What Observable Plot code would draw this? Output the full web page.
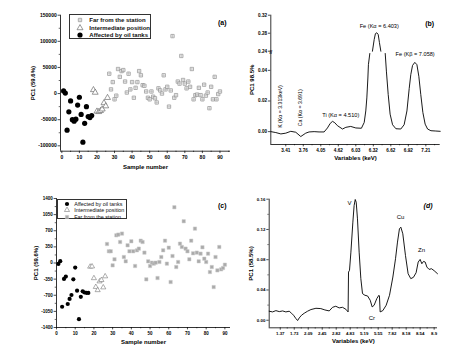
<!DOCTYPE html>
<html><head><meta charset="utf-8">
<script src="https://cdn.jsdelivr.net/npm/d3@7"></script>
<script src="https://cdn.jsdelivr.net/npm/@observablehq/plot@0.6"></script>
<style>
body{margin:0;background:#fff;}
#root{position:relative;width:474px;height:356px;overflow:hidden;background:#fff;font-family:"Liberation Sans",Arial,sans-serif;}
.panel{position:absolute;}
.panel svg{display:block;}
.legend{position:absolute;box-sizing:border-box;border:0.7px solid #333;background:#fff;}
.lrow{position:absolute;left:0;height:8px;display:flex;align-items:center;white-space:nowrap;color:#111;}
</style></head><body><div id="root"></div>
<script>
const FONT = '"Liberation Sans", Arial, sans-serif';

// ---------------- Panel (a) ----------------
const aOilSample = [1,2,3,4,5,6,7,8,9,10,11,12,13,14,15,16,17];
const aOilPC1 = [5000,1000,-70000,-35000,-14000,-50000,-53000,-49000,-22000,-7000,-40000,-93000,-57000,-25000,-44000,-46000,-42000];
const aMidSample = [18,19,20,21,22,23,24,25,26];
const aMidPC1 = [7000,2000,-34000,-35000,-33000,-30000,-18000,-24000,-8000];
const aFarSample = [27,28,29,30,31,32,33,34,35,36,37,38,39,40,41,42,43,44,45,46,47,48,49,50,51,52,53,54,55,56,57,58,59,60,61,62,63,64,65,66,67,68,69,70,71,72,73,74,75,76,77,78,79,80,81,82,83,84,85,86,87,88,89,90];
const aFarPC1 = [38000,8000,22000,-11000,-4000,47000,32000,43000,45000,23000,2000,38000,8000,22000,-8000,11000,22000,43000,35000,16000,15000,4000,-8000,-11000,4000,-6000,-9000,-17000,10000,6000,0,35000,8000,13000,-25000,6000,110000,-8000,-3000,23000,19000,72000,26000,19000,10000,23000,13000,47000,-11000,-3000,-2000,11000,-3000,-11000,17000,-4000,2000,-28000,13000,-11000,32000,-11000,-1000,4000];
const aXTicks = [0,10,20,30,40,50,60,70,80,90];
const aXMinor = [5,15,25,35,45,55,65,75,85,95];
const aYTicks = [-100000,-50000,0,50000,100000,150000];
const aYMinor = [-75000,-25000,25000,75000,125000];
const aLegend = ["Far from the station","Intermediate position","Affected by oil tanks"];

// ---------------- Panel (b) ----------------
const bRiseT = [-0.855,-0.57,-0.28,0,0.286,0.571,0.857,1.14,1.33,1.62,1.90,2.19,2.38,2.54,2.67,2.80,2.95,3.24,3.43,3.71,4.0,4.32,4.48,4.57,4.63,4.69,4.72,4.80];
const bRiseV = [0.0,-0.0006,-0.0015,-0.001,0.0002,-0.0004,-0.0032,-0.001,-0.0002,0,-0.0002,-0.0002,0.0024,0.0054,0.0067,0.0058,0.0039,0.0017,0.0028,0.0034,0.0024,0.0022,0.006,0.0135,0.022,0.035,0.0437,0.051];
const bPeakT = [4.95,5.05,5.12,5.20,5.28,5.35,5.43];
const bPeakV = [0.24,0.266,0.279,0.281,0.277,0.259,0.24];
const bFallT = [5.68,5.75,5.85,5.96,6.10,6.29,6.57,6.76,6.92,7.05,7.14,7.24,7.37,7.49,7.60,7.71,7.83,7.96,8.10,8.29,8.57,8.82];
const bFallV = [0.051,0.039,0.0243,0.0114,0.0045,0.0019,0.0017,0.0045,0.0135,0.0282,0.0372,0.0432,0.0452,0.0437,0.0361,0.0243,0.0125,0.0049,0.0017,0.0006,0.0004,0.0002];
const bXLabels = ["3.41","3.76","4.05","4.62","6.03","6.32","6.62","6.92","7.21"];
const bYTicks = [0,0.02,0.04,0.24,0.28,0.32];
const bNotes = ["Fe (K\u03b1 = 6.403)","Fe (K\u03b2 = 7.058)","Ti (K\u03b1 = 4.510)"];
const bNoteT = [5.34,7.39,3.14];
const bNoteV = [0.296,0.0505,0.0108];
const bVertNotes = ["K (K\u03b1 = 3.313keV)","Ca (K\u03b1 = 3.691)"];
const bVertT = [-0.29,0.86];
const bVertV = [0.0025,0.0035];

// ---------------- Panel (c) ----------------
const cOilSample = [1,2,3,4,5,6,7,8,9,10,11,12,13,14,15,16,17];
const cOilPC1 = [-20,40,-950,-345,-295,-890,-780,-695,-355,-100,-600,-1220,-735,-615,-640,-648,-650];
const cMidSample = [18,19,20,21,22,23,24,25,26];
const cMidPC1 = [-80,-75,-330,-520,-590,-400,-370,-530,-290];
const cFarSample = aFarSample;
const cFarPC1 = [413,254,254,-51,80,601,616,456,638,130,36,384,254,471,254,-65,275,312,485,456,225,-355,36,-65,7,-14,7,-326,22,130,275,485,-14,333,-413,152,1210,-87,22,420,348,906,312,254,80,485,210,746,225,36,203,341,94,22,203,-196,-87,-522,130,-160,348,-138,-109,-36];
const cXTicks = [0,10,20,30,40,50,60,70,80,90];
const cXMinor = [5,15,25,35,45,55,65,75,85];
const cYTicks = [-1400,-1050,-700,-350,0,350,700,1050,1400];
const cYMinor = [-1225,-875,-525,-175,175,525,875,1225];
const cLegend = ["Affected by oil tanks","Intermediate position","Far from the station"];

// ---------------- Panel (d) ----------------
const dT = [-0.79,-0.55,-0.31,-0.07,0.17,0.40,0.64,0.81,0.95,1.12,1.24,1.36,1.52,1.71,1.95,2.19,2.55,2.90,3.19,3.50,3.74,3.97,4.21,4.45,4.69,4.85,4.88,4.95,5.05,5.19,5.28,5.36,5.43,5.52,5.64,5.76,5.88,6.05,6.24,6.43,6.57,6.71,6.90,7.05,7.09,7.14,7.33,7.57,7.81,8.05,8.24,8.38,8.52,8.62,8.76,8.95,9.14,9.33,9.52,9.71,9.86,10.0,10.12,10.24,10.36,10.48,10.64,10.81,11.0,11.24];
const dV = [0.0119,0.011,0.0127,0.0114,0.0123,0.011,0.0119,0.0092,0.0066,0.0022,-0.0004,0.0031,0.0066,0.0092,0.0119,0.0141,0.0158,0.0154,0.0136,0.0123,0.0171,0.0185,0.0163,0.0171,0.0145,0.011,0.0637,0.066,0.090,0.1297,0.1516,0.1596,0.156,0.134,0.090,0.055,0.0352,0.033,0.0321,0.0264,0.0176,0.0198,0.0286,0.033,0.032,0.011,0.0127,0.0198,0.033,0.0571,0.0813,0.1033,0.1209,0.123,0.1143,0.0857,0.0615,0.055,0.0567,0.0628,0.0769,0.0804,0.0747,0.0778,0.0769,0.0703,0.0672,0.0681,0.0655,0.0615];
const dXLabels = ["1.37","1.73","2.09","2.45","2.82","4.83","5.19","5.55","7.82","8.18","8.54","8.9"];
const dYTicks = [0,0.04,0.08,0.12,0.16];
const dYMinor = [0.02,0.06,0.10,0.14];
const dNotes = ["V","Cu","Zn","Cr"];
const dNoteT = [4.95,8.6,10.1,6.55];
const dNoteV = [0.1554,0.136,0.0925,0.003];

// ---------------- helpers ----------------
const root = document.getElementById("root");
function place(node, left, top) {
  const w = document.createElement("div");
  w.className = "panel";
  w.style.left = left + "px"; w.style.top = top + "px";
  w.appendChild(node); root.appendChild(w);
}
const str = d => String(d);
const f2 = d3.format(".2f");
const INK = "#000";
function frameAxes(xDom, yDom, o) {
  return [
    Plot.axisX({ticks: o.xTicks, anchor: "bottom", tickSize: 2.4, tickPadding: 1.4, tickFormat: o.xFormat, fontSize: o.tickFont, fontWeight: "bold", label: null, strokeWidth: 0.7, stroke: INK, fill: INK}),
    o.xMinor ? Plot.axisX({ticks: o.xMinor, anchor: "bottom", tickSize: 1.3, tickFormat: () => "", label: null, strokeWidth: 0.6, stroke: INK}) : null,
    Plot.axisY({ticks: o.yTicks, anchor: "left", tickSize: 2.4, tickPadding: 1.4, tickFormat: o.yFormat, fontSize: o.tickFont, fontWeight: "bold", label: null, strokeWidth: 0.7, stroke: INK, fill: INK}),
    o.yMinor ? Plot.axisY({ticks: o.yMinor, anchor: "left", tickSize: 1.3, tickFormat: () => "", label: null, strokeWidth: 0.6, stroke: INK}) : null,
    Plot.ruleX([xDom[0]], {stroke: INK, strokeWidth: 0.8}),
    Plot.ruleY([yDom[0]], {stroke: INK, strokeWidth: 0.8}),
    Plot.text([o.yLabel], {text: d => d, frameAnchor: "left", dx: o.yLabelDx, rotate: -90, textAnchor: "middle", fontSize: o.labelFont, fontWeight: "bold", fill: INK}),
    Plot.text([o.xLabel], {text: d => d, frameAnchor: "bottom", dy: o.xLabelDy, textAnchor: "middle", fontSize: o.labelFont, fontWeight: "bold", fill: INK})
  ];
}
function symSvg(kind, r, color) {
  const ns = "http://www.w3.org/2000/svg";
  const svg = document.createElementNS(ns, "svg");
  svg.setAttribute("width", 8); svg.setAttribute("height", 8);
  svg.setAttribute("viewBox", "-4 -4 8 8");
  const g = d3.select(svg);
  const size = Math.PI * r * r;
  if (kind === "circle") g.append("circle").attr("r", r).attr("fill", color);
  if (kind === "triangle") g.append("path").attr("d", d3.symbol(d3.symbolTriangle, size)()).attr("fill", "#fff").attr("stroke", color).attr("stroke-width", 0.6);
  if (kind === "squarePlus") {
    g.append("path").attr("d", d3.symbol(d3.symbolSquare, size)()).attr("fill", "#fff").attr("stroke", color).attr("stroke-width", 0.55);
    g.append("path").attr("d", d3.symbol(d3.symbolPlus, size * 0.6)()).attr("fill", "none").attr("stroke", "#999").attr("stroke-width", 0.4);
  }
  if (kind === "square") g.append("path").attr("d", d3.symbol(d3.symbolSquare, size)()).attr("fill", "#aaa").attr("stroke", "#ccc").attr("stroke-width", 0.5);
  return svg;
}
function legend(box, rows) {
  const el = document.createElement("div");
  el.className = "legend";
  Object.assign(el.style, {left: box.left + "px", top: box.top + "px", width: box.width + "px", height: box.height + "px"});
  rows.forEach((r, i) => {
    const row = document.createElement("div");
    row.className = "lrow";
    row.style.top = (box.rowY[i] - 4) + "px";
    const s = symSvg(r.kind, r.r, r.color);
    s.style.marginLeft = (box.symX - 4) + "px";
    row.appendChild(s);
    const t = document.createElement("span");
    t.textContent = r.label;
    Object.assign(t.style, {marginLeft: (box.textX - box.symX - 4) + "px", fontSize: box.font + "px", fontWeight: box.weight, lineHeight: "8px"});
    row.appendChild(t);
    el.appendChild(row);
  });
  root.appendChild(el);
}

// ---------------- build (a) ----------------
const aXDom = [-0.75, 96], aYDom = [-110300, 150000];
const aOil = aOilSample.map((s, i) => ({s, v: aOilPC1[i]}));
const aMid = aMidSample.map((s, i) => ({s, v: aMidPC1[i]}));
const aFar = aFarSample.map((s, i) => ({s, v: aFarPC1[i]}));
place(Plot.plot({
  width: 237, height: 178, marginLeft: 60, marginRight: 7, marginTop: 14.7, marginBottom: 27.3,
  x: {domain: aXDom, axis: null}, y: {domain: aYDom, axis: null},
  style: {fontFamily: FONT, background: "transparent", color: "#000"},
  marks: [
    ...frameAxes(aXDom, aYDom, {xTicks: aXTicks, xMinor: aXMinor, yTicks: aYTicks, yMinor: aYMinor, xFormat: str, yFormat: str, tickFont: 5, labelFont: 6, yLabel: "PC1 (59.6%)", yLabelDx: -27.5, xLabel: "Sample number", xLabelDy: 17.3}),
    Plot.dot(aFar, {x: "s", y: "v", symbol: "square", r: 1.9, fill: "#fff", stroke: "#777", strokeWidth: 0.55}),
    Plot.dot(aFar, {x: "s", y: "v", symbol: "plus", r: 1.3, stroke: "#999", strokeWidth: 0.4}),
    Plot.dot(aMid, {x: "s", y: "v", symbol: "triangle", r: 2.2, fill: "#fff", stroke: "#555", strokeWidth: 0.6}),
    Plot.dot(aOil, {x: "s", y: "v", symbol: "circle", r: 2.6, fill: INK}),
    Plot.text(["(a)"], {text: d => d, frameAnchor: "top-right", dx: -4, dy: 4.5, fontSize: 7, fontWeight: "bold", fill: INK})
  ]
}), 0, 0);
legend({left: 69.3, top: 14, width: 81.7, height: 25.3, rowY: [5.3, 12.7, 20], symX: 10, textX: 19, font: 6, weight: "bold"}, [
  {label: aLegend[0], kind: "squarePlus", r: 1.9, color: "#777"},
  {label: aLegend[1], kind: "triangle", r: 2.2, color: "#555"},
  {label: aLegend[2], kind: "circle", r: 2.6, color: INK}
]);

// ---------------- build (b) ----------------
const bXDom = [-0.855, 8.82];
const bYDom = [-0.0084, 0.051, 0.24, 0.32];
const bLine = [
  ...bRiseT.map((t, i) => ({t, v: bRiseV[i], seg: "rise"})),
  ...bPeakT.map((t, i) => ({t, v: bPeakV[i], seg: "peak"})),
  ...bFallT.map((t, i) => ({t, v: bFallV[i], seg: "fall"}))
];
const bTickPos = bXLabels.map((_, i) => i);
const bMinorPos = bXLabels.map((_, i) => i + 0.5).filter(d => d < bXDom[1]);
place(Plot.plot({
  width: 237, height: 178, marginLeft: 33.3, marginRight: 34.3, marginTop: 14.7, marginBottom: 34,
  x: {domain: bXDom, axis: null},
  y: {type: "linear", domain: bYDom, range: [144, 53, 50.7, 14.7], axis: null},
  style: {fontFamily: FONT, background: "transparent", color: "#000"},
  marks: [
    ...frameAxes(bXDom, bYDom, {xTicks: bTickPos, xMinor: bMinorPos, yTicks: bYTicks, xFormat: i => bXLabels[i], yFormat: f2, tickFont: 4.6, labelFont: 6, yLabel: "PC1 98.5%", yLabelDx: -18.3, xLabel: "Variables (keV)", xLabelDy: 15.3}),
    Plot.text(["//"], {text: d => d, x: bXDom[0], y: bYDom[2], dy: 1.2, fontSize: 5, fontWeight: "bold", fill: INK}),
    Plot.line(bLine, {x: "t", y: "v", z: "seg", stroke: INK, strokeWidth: 0.9}),
    Plot.text(bNotes, {text: d => d, x: (d, i) => bNoteT[i], y: (d, i) => bNoteV[i], fontSize: 5.6, textAnchor: "middle", fill: INK}),
    Plot.text(bVertNotes, {text: d => d, x: (d, i) => bVertT[i], y: (d, i) => bVertV[i], rotate: -90, textAnchor: "start", fontSize: 5.2, fill: INK}),
    Plot.text(["(b)"], {text: d => d, frameAnchor: "top-right", dx: -6, dy: 6, fontSize: 7, fontWeight: "bold", fill: INK})
  ]
}), 237, 0);

// ---------------- build (c) ----------------
const cXDom = [0, 93], cYDom = [-1400, 1400];
const cOil = cOilSample.map((s, i) => ({s, v: cOilPC1[i]}));
const cMid = cMidSample.map((s, i) => ({s, v: cMidPC1[i]}));
const cFar = cFarSample.map((s, i) => ({s, v: cFarPC1[i]}));
place(Plot.plot({
  width: 237, height: 178, marginLeft: 56, marginRight: 7, marginTop: 20, marginBottom: 29,
  x: {domain: cXDom, axis: null}, y: {domain: cYDom, axis: null},
  style: {fontFamily: FONT, background: "transparent", color: "#000"},
  marks: [
    ...frameAxes(cXDom, cYDom, {xTicks: cXTicks, xMinor: cXMinor, yTicks: cYTicks, yMinor: cYMinor, xFormat: str, yFormat: str, tickFont: 4.5, labelFont: 6, yLabel: "PC1 (59.6%)", yLabelDx: -20, xLabel: "Sample number", xLabelDy: 16}),
    Plot.dot(cFar, {x: "s", y: "v", symbol: "square", r: 1.9, fill: "#aaa", stroke: "#ccc", strokeWidth: 0.5}),
    Plot.dot(cMid, {x: "s", y: "v", symbol: "triangle", r: 1.9, fill: "#fff", stroke: "#777", strokeWidth: 0.6}),
    Plot.dot(cOil, {x: "s", y: "v", symbol: "circle", r: 2.1, fill: INK}),
    Plot.text(["(c)"], {text: d => d, frameAnchor: "top-right", dx: -4, dy: 5, fontSize: 7, fontWeight: "bold", fill: INK})
  ]
}), 0, 178);
legend({left: 57.3, top: 198.7, width: 70, height: 20.6, rowY: [4, 10.6, 17.3], symX: 8.4, textX: 16, font: 5.4, weight: "normal"}, [
  {label: cLegend[0], kind: "circle", r: 2.1, color: INK},
  {label: cLegend[1], kind: "triangle", r: 1.9, color: "#777"},
  {label: cLegend[2], kind: "square", r: 1.9, color: "#aaa"}
]);

// ---------------- build (d) ----------------
const dXDom = [-0.79, 11.24], dYDom = [-0.010, 0.16];
const dLine = dT.map((t, i) => ({t, v: dV[i]}));
const dTickPos = dXLabels.map((_, i) => i);
const dMinorPos = dXLabels.map((_, i) => i + 0.5).filter(d => d < dXDom[1]);
place(Plot.plot({
  width: 237, height: 178, marginLeft: 31.7, marginRight: 37, marginTop: 20.7, marginBottom: 28.7,
  x: {domain: dXDom, axis: null}, y: {domain: dYDom, axis: null},
  style: {fontFamily: FONT, background: "transparent", color: "#000"},
  marks: [
    ...frameAxes(dXDom, dYDom, {xTicks: dTickPos, xMinor: dMinorPos, yTicks: dYTicks, yMinor: dYMinor, xFormat: i => dXLabels[i], yFormat: f2, tickFont: 4.4, labelFont: 6, yLabel: "PC1 (58.5%)", yLabelDx: -18, xLabel: "Variables (keV)", xLabelDy: 15}),
    Plot.line(dLine, {x: "t", y: "v", stroke: INK, strokeWidth: 0.9}),
    Plot.text(dNotes, {text: d => d, x: (d, i) => dNoteT[i], y: (d, i) => dNoteV[i], fontSize: 6, textAnchor: "middle", fill: INK}),
    Plot.text(["(d)"], {text: d => d, frameAnchor: "top-right", dx: -5, dy: 4.3, fontSize: 7, fontWeight: "bold", fontStyle: "italic", fill: INK})
  ]
}), 237, 178);
</script></body></html>
